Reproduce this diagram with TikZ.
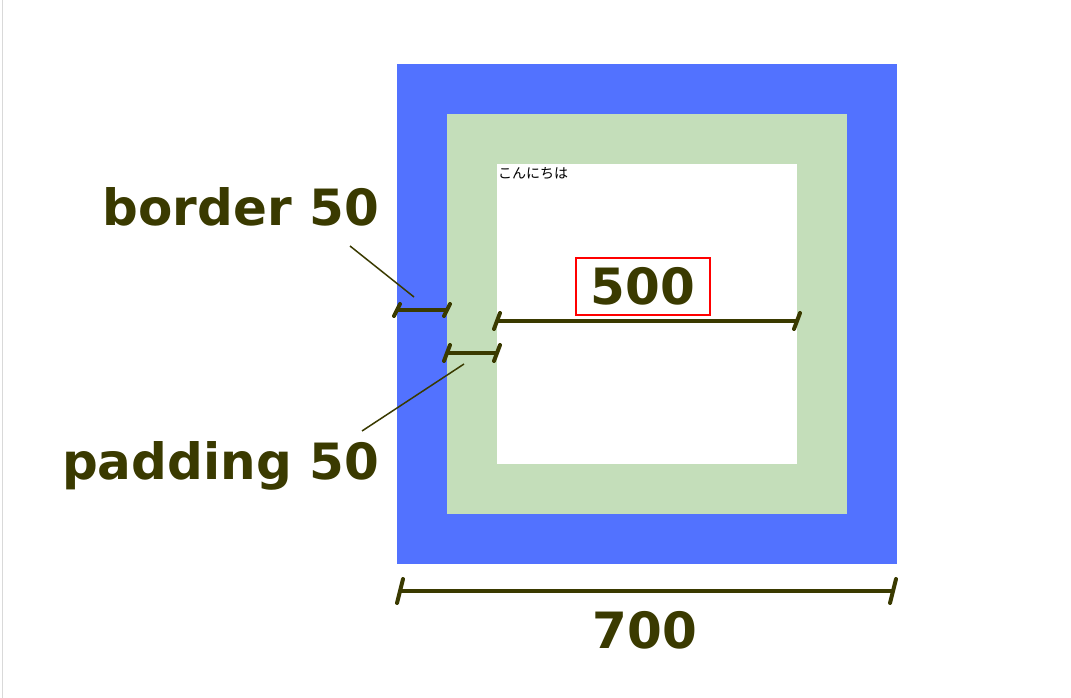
\documentclass[tikz,border=0pt]{standalone}
\usepackage{fontspec}
\setmainfont{DejaVu Sans}
\newfontfamily\jp{Noto Sans CJK JP}
\begin{document}
\begin{tikzpicture}[x=1pt,y=-1pt,
  dim/.style={draw=olv,line width=4pt},
  tk/.style={draw=olv,line width=4pt,line cap=round},
  big/.style={text=olv,font=\bfseries\fontsize{50}{60}\selectfont,inner sep=0pt},
  lead/.style={draw=olv,line width=1.5pt}]
\definecolor{olv}{HTML}{3A3A00}
\definecolor{bl}{HTML}{5272FF}
\definecolor{gr}{HTML}{C4DEBA}
\useasboundingbox (0,0) rectangle (1071,698);
\fill[white] (0,0) rectangle (1071,698);
\draw[gray!30,line width=1pt] (2,0) -- (2,698);
\fill[bl] (397,64) rectangle (897,564);
\fill[gr] (447,114) rectangle (847,514);
\fill[white] (497,164) rectangle (797,464);
\node[anchor=north west,inner sep=0pt,font=\jp\fontsize{14}{16}\selectfont] (jp) at (498,167) {こんにちは};
% border
\coordinate (b1) at (397,310); \coordinate (b2) at (447,310);
\draw[dim] (b1) -- (b2);
\draw[tk] ([shift={(-3,6)}]b1) -- ([shift={(3,-6)}]b1);
\draw[tk] ([shift={(-3,6)}]b2) -- ([shift={(3,-6)}]b2);
% padding
\coordinate (p1) at (447,353); \coordinate (p2) at (497,353);
\draw[dim] (p1) -- (p2);
\draw[tk] ([shift={(-3,8)}]p1) -- ([shift={(3,-8)}]p1);
\draw[tk] ([shift={(-3,8)}]p2) -- ([shift={(3,-8)}]p2);
% 500
\coordinate (c1) at (497,321); \coordinate (c2) at (797,321);
\draw[dim] (c1) -- (c2);
\draw[tk] ([shift={(-3,8)}]c1) -- ([shift={(3,-8)}]c1);
\draw[tk] ([shift={(-3,8)}]c2) -- ([shift={(3,-8)}]c2);
\node[big,draw=red,line width=2pt,minimum width=134pt,minimum height=57pt] (l500) at (643,286) {500};
% 700
\coordinate (d1) at (400,591); \coordinate (d2) at (893,591);
\draw[dim] (d1) -- (d2);
\draw[tk] ([shift={(-3,12)}]d1) -- ([shift={(3,-12)}]d1);
\draw[tk] ([shift={(-3,12)}]d2) -- ([shift={(3,-12)}]d2);
\node[big] (l700) at (645,630) {700};
% labels
\node[big,anchor=east] (lb) at (379,207) {border 50};
\node[big,anchor=east] (lp) at (379,466) {padding 50};
\coordinate (lb1) at (350,246); \coordinate (lb2) at (414,297);
\draw[lead] (lb1) -- (lb2);
\coordinate (lp1) at (464,364); \coordinate (lp2) at (362,431);
\draw[lead] (lp1) -- (lp2);
\end{tikzpicture}
\end{document}
